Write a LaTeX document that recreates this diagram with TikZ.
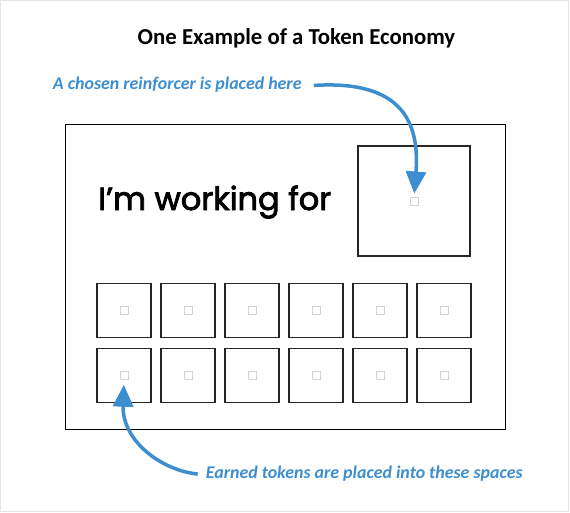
\documentclass[tikz,border=0pt]{standalone}
\usepackage{fontspec}
\setmainfont{Carlito}
\newfontfamily\workfont[FakeBold=2.6]{Poppins}
\usetikzlibrary{arrows.meta}
\definecolor{lblue}{RGB}{61,142,208}
\definecolor{phgray}{RGB}{210,210,210}
\definecolor{framegray}{RGB}{228,228,228}
\begin{document}
\begin{tikzpicture}[x=1pt,y=-1pt,
  tokenbox/.style={draw=black!85, line width=1.2pt, minimum size=54pt, inner sep=0pt, outer sep=0pt},
  ph/.style={draw=phgray, line width=0.9pt, minimum size=8pt, inner sep=0pt, outer sep=0pt},
  note/.style={text=lblue, font=\fontsize{17.9}{20}\selectfont\bfseries\itshape, inner sep=0pt},
  pointer/.style={draw=lblue, line width=3.5pt, -{Triangle[width=20pt,length=22pt]}}]
\useasboundingbox (0,0) rectangle (570,512);
\draw[framegray, line width=1pt] (0.5,0.5) rectangle (568.5,511.5);
\node[font=\fontsize{22.8}{26}\selectfont\bfseries, anchor=base, inner sep=0pt] (title) at (296.5,44.3) {One Example of a Token Economy};
\node[draw, line width=1.3pt, minimum width=440pt, minimum height=305pt, anchor=north west, inner sep=0pt] (card) at (65,124) {};
\node[font=\workfont\fontsize{32}{36}\selectfont, anchor=base west, inner sep=0pt] (working) at (98,210) {I’m working for};
\node[draw=black!85, line width=1.2pt, minimum width=112pt, minimum height=110pt, inner sep=0pt] (big) at (414,201) {};
\node[ph] (bigph) at (big.center) {};
\foreach \r/\y in {1/310.3, 2/375.7} {
  \foreach \c in {1,...,6} {
    \node[tokenbox] (t\r\c) at ({124+64*(\c-1)},\y) {};
    \node[ph] (p\r\c) at (t\r\c.center) {};
  }
}
\node[note, anchor=base west] (a1) at (52.7,89.3) {A chosen reinforcer is placed here};
\node[note, anchor=base west] (a2) at (205.7,478) {Earned tokens are placed into these spaces};
\draw[pointer, shorten >=3.5pt] ([xshift=12pt,yshift=-1pt]a1.east) .. controls (400,80) and (420,120) .. (bigph.north);
\draw[pointer, shorten >=5pt] ([xshift=-8pt,yshift=-1pt]a2.west) .. controls (160,470) and (122,440) .. (p21.south);
\end{tikzpicture}
\end{document}
